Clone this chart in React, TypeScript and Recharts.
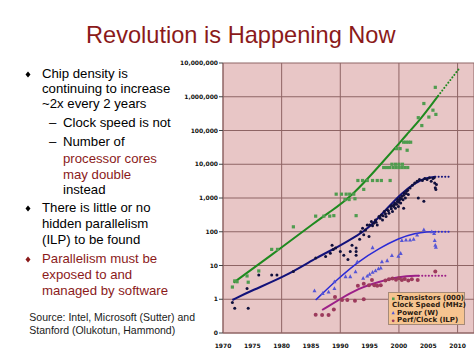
import { ComposedChart, Scatter, Line, XAxis, YAxis, CartesianGrid, Legend } from 'recharts';

type Pt = [number, number];

// axis ticks
const yearTicks = [1970, 1975, 1980, 1985, 1990, 1995, 2000, 2005, 2010];
const valueTicks = [0.1, 1, 10, 100, 1000, 10000, 100000, 1000000, 10000000];

// Transistors (000)
const transistors: Pt[] = [
  [1971.6, 2.3], [1972.0, 3.5], [1972.4, 3.3], [1974.1, 4.9], [1974.3, 3.2], [1976.1, 6.9],
  [1978.3, 30], [1979.3, 30], [1982.0, 140], [1985.8, 290], [1987.2, 290], [1988.2, 290],
  [1988.9, 300], [1989.3, 1300], [1990.2, 1300], [1991.0, 1300], [1991.6, 1300], [1992.3, 1300],
  [1990.8, 900], [1991.5, 900], [1992.5, 950], [1992.7, 300], [1993.0, 3300], [1993.8, 3300],
  [1994.6, 3300], [1995.5, 3300], [1996.3, 3300], [1997.0, 3300], [1998.5, 3300], [1994.0, 1800],
  [1997.4, 8000], [1997.9, 8000], [1998.4, 8000], [1999.0, 8000], [1999.5, 8000], [2000.0, 8000],
  [2000.5, 8000], [2001.0, 8000], [2001.5, 8000], [1998.8, 10000], [1999.4, 10000], [2000.0, 10000],
  [2000.6, 10000], [1999.6, 29000], [2000.2, 29000], [2000.8, 45000], [2001.2, 45000], [2001.6, 45000],
  [2002.0, 45000], [2001.4, 26000], [2003.3, 240000], [2003.9, 140000], [2004.25, 630000],
  [2005.1, 250000], [2005.8, 400000], [2006.3, 300000], [2006.2, 1900000],
];

// Clock Speed (MHz)
const clockSpeed: Pt[] = [
  [1971.6, 0.8], [1972.0, 0.54], [1974.3, 0.54], [1974.1, 2.1], [1976.1, 5.2], [1978.3, 5.2],
  [1979.2, 5.2], [1982.0, 6.6], [1985.8, 16.6], [1987.5, 18.6], [1988.3, 23], [1988.8, 30],
  [1989.2, 33], [1988.6, 40], [1990.0, 26], [1990.6, 20], [1991.3, 15], [1991.7, 26], [1992.7, 26],
  [1992.7, 20], [1992.7, 33], [1992.0, 40], [1993.3, 60], [1994.0, 81], [1994.9, 72],
  [1993.5, 100], [1993.8, 126], [1994.3, 112], [1994.6, 158], [1995.0, 158], [1995.3, 200],
  [1995.7, 178], [1996.0, 224], [1996.3, 158], [1996.6, 282], [1997.0, 316], [1997.2, 224],
  [1997.5, 398], [1997.8, 282], [1998.0, 447], [1998.3, 355], [1998.6, 562], [1998.9, 398],
  [1999.2, 631], [1999.4, 501], [1999.7, 794], [1999.9, 562], [2000.1, 891], [2000.3, 708],
  [2000.5, 1122], [2000.7, 891], [2000.9, 1413], [2001.1, 1000], [2001.3, 1585], [2001.6, 1259],
  [2001.9, 1995], [2002.3, 2400], [2002.7, 2800], [2003.1, 3160], [2003.5, 3550], [2004.0, 3300],
  [2004.4, 3800], [2004.8, 3550], [2005.2, 4000], [2005.5, 3160], [2005.8, 3800], [2006.0, 4000],
  [2006.1, 2800], [2006.2, 2000], [2006.3, 1800], [2006.4, 2500],
  [1995.5, 150], [1996.1, 190], [1996.8, 250], [1997.3, 300], [1997.7, 340], [1998.2, 420],
  [1998.7, 480], [1999.1, 560], [1999.6, 650], [2000.0, 760], [2000.4, 950], [2000.8, 1200],
  [2001.2, 1350], [2001.5, 1700], [1999.3, 700], [1999.8, 900], [2000.2, 1000], [1998.8, 600],
  [2000.8, 500], [2003.3, 1000], [2004.25, 800],
];

// Power (W)
const power: Pt[] = [
  [1985.6, 1.8], [1987.0, 1.5], [1988.0, 1.65], [1989.0, 2.1], [1989.0, 3.3], [1990.9, 4.7],
  [1991.7, 4.7], [1992.6, 6.6], [1992.9, 13], [1993.9, 4.2], [1994.6, 4.9], [1995.0, 5.5],
  [1995.5, 6.3], [1996.0, 7.0], [1996.5, 8.0], [1996.9, 8.5], [1995.5, 34], [1997.1, 13],
  [1998.0, 14], [1998.8, 20], [1999.9, 19], [2000.3, 23], [2000.5, 55], [2001.2, 57],
  [2001.9, 57], [2002.5, 60], [2003.1, 80], [2004.25, 115], [2005.6, 100], [2006.0, 90],
  [2006.1, 55], [2006.2, 40], [2006.3, 35],
];

// Perf/Clock (ILP)
const perfClock: Pt[] = [
  [1985.8, 0.35], [1986.9, 0.34], [1988.0, 0.34], [1988.9, 0.5], [1989.1, 1.17], [1990.3, 0.95],
  [1991.2, 0.95], [1992.5, 0.9], [1993.0, 2.5], [1994.0, 2.9], [1994.0, 1.0], [1994.9, 2.6],
  [1995.4, 3.7], [1995.8, 2.6], [1996.3, 2.5], [1996.9, 2.6], [1997.7, 3.6], [1998.3, 3.9],
  [1998.9, 4.1], [1999.5, 3.8], [2000.0, 4.2], [2000.5, 3.7], [2001.0, 4.0], [2001.6, 3.6],
  [2002.2, 3.9], [2003.2, 3.7], [2006.2, 6.6],
];

// trend lines (solid) and their dotted extrapolations
const transistorTrend: Pt[] = [
  [1971.8, 3.1], [1977.8, 17.8], [1986.3, 229], [1988, 363], [1992, 1122], [1997.1, 10960],
  [2000, 40700], [2001.1, 69000], [2003.7, 214000], [2006.7, 1070000],
];
const transistorExt: Pt[] = [[2006.7, 1070000], [2010.2, 6600000]];
const clockTrend: Pt[] = [
  [1971.6, 0.95], [1975, 1.86], [1980.6, 4.7], [1986.3, 18.6], [1989.7, 36], [1993.1, 81],
  [1994.9, 129], [1998.3, 562], [2000.5, 1413], [2002.8, 2818], [2004.5, 3981], [2006.2, 4266],
];
const clockExt: Pt[] = [[2006.2, 4266], [2009, 4266]];
const powerTrend: Pt[] = [
  [1985.8, 0.95], [1989.7, 4.2], [1993.1, 13.2], [1996.6, 32], [2000, 65], [2002.8, 91],
  [2004.8, 100], [2006.2, 100],
];
const powerExt: Pt[] = [[2006.2, 100], [2008.8, 100]];
const perfTrend: Pt[] = [
  [1986.9, 0.48], [1989.7, 0.95], [1993.1, 2.1], [1996.6, 3.3], [2000, 4.7], [2003.4, 5.0],
];
const perfExt: Pt[] = [[2003.4, 5.0], [2008, 5.0]];

const legendLabels = ['Transistors (000)', 'Clock Speed (MHz)', 'Power (W)', 'Perf/Clock (ILP)'];

const rows = (pts: Pt[]) => pts.map(([x, y]) => ({ x, y }));

const GREEN = '#1f8a1f';
const GREEN_PT = '#4f9c4f';
const NAVY = '#12127a';
const NAVY_PT = '#10103c';
const BLUE = '#2b2bd6';
const BLUE_PT = '#5555d6';
const PURPLE = '#9c1f88';
const PURPLE_PT = '#9c3a5c';
const RED = '#8b1a1a';

const Square = (p: any) => <rect x={p.cx - 1.6} y={p.cy - 1.6} width={3.2} height={3.2} fill={GREEN_PT} />;
const SmallDot = (p: any) => <circle cx={p.cx} cy={p.cy} r={1.5} fill={NAVY_PT} />;
const Tri = (p: any) => (
  <polygon points={`${p.cx},${p.cy - 2.2} ${p.cx - 2},${p.cy + 1.6} ${p.cx + 2},${p.cy + 1.6}`} fill={BLUE_PT} />
);
const BigDot = (p: any) => <circle cx={p.cx} cy={p.cy} r={2} fill={PURPLE_PT} />;

const markers = [
  <rect x={1} y={1.5} width={2.6} height={2.6} fill={GREEN_PT} />,
  <circle cx={2.2} cy={2.8} r={1.2} fill={NAVY_PT} />,
  <polygon points="2.2,1 0.6,4.2 3.8,4.2" fill={BLUE_PT} />,
  <circle cx={2.2} cy={2.8} r={1.4} fill={PURPLE_PT} />,
];

function LegendBox() {
  return (
    <div
      style={{
        width: 77,
        height: 33,
        boxSizing: 'border-box',
        background: '#f6c490',
        border: '1px solid #a58a78',
        padding: '2px 0 0 2px',
        fontFamily: '"DejaVu Sans", Verdana, sans-serif',
        fontWeight: 'bold',
        fontSize: 7,
        lineHeight: '7.3px',
        color: '#2a1a10',
      }}
    >
      {legendLabels.map((t, i) => (
        <div key={t} style={{ display: 'flex', alignItems: 'center', whiteSpace: 'nowrap' }}>
          <svg width={5} height={6} style={{ marginRight: 1 }}>{markers[i]}</svg>
          {t}
        </div>
      ))}
    </div>
  );
}

function Txt({ x, y, size = 13.2, color = '#000', children }: any) {
  return (
    <div
      style={{
        position: 'absolute',
        left: x,
        top: y - 0.4885 * size,
        fontSize: size,
        lineHeight: `${size}px`,
        color,
        whiteSpace: 'nowrap',
        fontFamily: '"Liberation Sans", Arial, sans-serif',
      }}
    >
      {children}
    </div>
  );
}

function Diamond({ x, y, color }: any) {
  return (
    <svg width={6} height={7} style={{ position: 'absolute', left: x - 3, top: y - 3.5 }}>
      <polygon points="3,0.5 5.5,3.5 3,6.5 0.5,3.5" fill={color} />
    </svg>
  );
}

const fmt = (v: number) => (v < 1 ? '0' : v.toLocaleString('en-US'));

export default function App() {
  return (
    <div style={{ position: 'absolute', left: 0, top: 0, width: 474, height: 355, background: '#fff', overflow: 'hidden' }}>
      <ComposedChart width={474} height={355} margin={{ top: 63, right: 0, bottom: 0, left: 0 }}>
        <CartesianGrid fill="#e8c6c6" fillOpacity={1} stroke="#8e6464" strokeWidth={1} />
        <XAxis
          dataKey="x"
          type="number"
          domain={[1970, 2012.8]}
          ticks={yearTicks}
          allowDataOverflow
          height={22}
          tickLine={false}
          tickMargin={5}
          axisLine={{ stroke: '#8e6464' }}
          tick={{ fill: '#111', fontSize: 6, fontWeight: 'bold', fontFamily: '"DejaVu Sans", Verdana, sans-serif' }}
        />
        <YAxis
          type="number"
          scale="log"
          domain={[0.1, 10000000]}
          ticks={valueTicks}
          allowDataOverflow
          width={223}
          tickSize={4}
          tickMargin={1}
          tickFormatter={fmt}
          tickLine={{ stroke: '#444' }}
          axisLine={{ stroke: '#8e6464' }}
          tick={{ fill: '#111', fontSize: 6, fontWeight: 'bold', fontFamily: '"DejaVu Sans", Verdana, sans-serif' }}
        />
        <Scatter data={rows(transistors)} dataKey="y" shape={Square} isAnimationActive={false} />
        <Scatter data={rows(clockSpeed)} dataKey="y" shape={SmallDot} isAnimationActive={false} />
        <Scatter data={rows(power)} dataKey="y" shape={Tri} isAnimationActive={false} />
        <Scatter data={rows(perfClock)} dataKey="y" shape={BigDot} isAnimationActive={false} />

        <Line data={rows(transistorTrend)} dataKey="y" type="basis" stroke={GREEN} strokeWidth={2} dot={false} isAnimationActive={false} />
        <Line data={rows(transistorExt)} dataKey="y" type="linear" stroke={GREEN} strokeWidth={2} strokeDasharray="0.1 3.2" strokeLinecap="round" dot={false} isAnimationActive={false} />
        <Line data={rows(clockTrend)} dataKey="y" type="basis" stroke={NAVY} strokeWidth={2} dot={false} isAnimationActive={false} />
        <Line data={rows(clockExt)} dataKey="y" type="linear" stroke={NAVY} strokeWidth={2} strokeDasharray="0.1 3.2" strokeLinecap="round" dot={false} isAnimationActive={false} />
        <Line data={rows(powerTrend)} dataKey="y" type="basis" stroke={BLUE} strokeWidth={1.5} dot={false} isAnimationActive={false} />
        <Line data={rows(powerExt)} dataKey="y" type="linear" stroke={BLUE} strokeWidth={2} strokeDasharray="0.1 3.2" strokeLinecap="round" dot={false} isAnimationActive={false} />
        <Line data={rows(perfTrend)} dataKey="y" type="basis" stroke={PURPLE} strokeWidth={2} dot={false} isAnimationActive={false} />
        <Line data={rows(perfExt)} dataKey="y" type="linear" stroke={PURPLE} strokeWidth={2} strokeDasharray="0.1 3.2" strokeLinecap="round" dot={false} isAnimationActive={false} />

        <Legend
          layout="vertical"
          align="center"
          verticalAlign="middle"
          content={() => <LegendBox />}
          wrapperStyle={{ left: 388, top: 292, width: 77 }}
        />
      </ComposedChart>

      <div
        style={{
          position: 'absolute',
          left: 86,
          top: 23.6,
          fontSize: 23.6,
          lineHeight: '23.6px',
          color: RED,
          whiteSpace: 'nowrap',
          fontFamily: '"Liberation Sans", Arial, sans-serif',
        }}
      >
        Revolution is Happening Now
      </div>

      <Diamond x={28.3} y={74.5} color="#000" />
      <Txt x={42} y={73.3}>Chip density is</Txt>
      <Txt x={42} y={88.6}>continuing to increase</Txt>
      <Txt x={42} y={103.8}>~2x every 2 years</Txt>
      <Txt x={49} y={122.7}>–</Txt>
      <Txt x={63} y={122.7}>Clock speed is not</Txt>
      <Txt x={49} y={141.7}>–</Txt>
      <Txt x={63} y={141.7}>Number of</Txt>
      <Txt x={63} y={158.3} color={RED}>processor cores</Txt>
      <Txt x={63} y={174} color={RED}>may double</Txt>
      <Txt x={63} y={189.3}>instead</Txt>
      <Diamond x={28.3} y={208.5} color="#000" />
      <Txt x={42} y={207.7}>There is little or no</Txt>
      <Txt x={42} y={223.3}>hidden parallelism</Txt>
      <Txt x={42} y={239.3}>(ILP) to be found</Txt>
      <Diamond x={28.3} y={259} color={RED} />
      <Txt x={42} y={258.3} color={RED}>Parallelism must be</Txt>
      <Txt x={42} y={274.6} color={RED}>exposed to and</Txt>
      <Txt x={42} y={290.7} color={RED}>managed by software</Txt>
      <Txt x={29.3} y={317.3} size={10.5} color="#1a1a1a">Source: Intel, Microsoft (Sutter) and</Txt>
      <Txt x={29.3} y={330} size={10.5} color="#1a1a1a">Stanford (Olukotun, Hammond)</Txt>
    </div>
  );
}
